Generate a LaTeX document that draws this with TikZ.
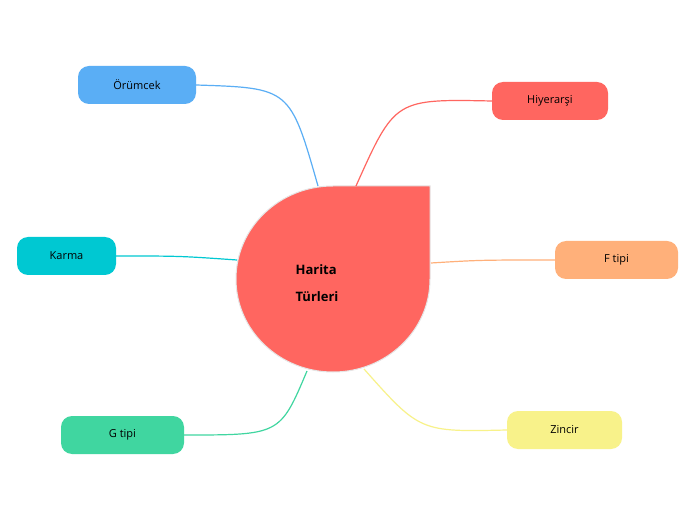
\documentclass[tikz,border=0pt]{standalone}
\usepackage{fontspec}
\setmainfont{Open Sans}
\definecolor{cred}{HTML}{FF6660}
\definecolor{cblue}{HTML}{5AAEF5}
\definecolor{ccyan}{HTML}{00C8D2}
\definecolor{corange}{HTML}{FFB07A}
\definecolor{cgreen}{HTML}{40D6A0}
\definecolor{cyellow}{HTML}{F8F28A}
\begin{document}
\begin{tikzpicture}[x=1pt,y=1pt,
  pill/.style={rounded corners=11pt,minimum height=38pt,inner sep=0pt,font=\fontsize{11}{13}\selectfont,text=black},
  conn/.style={line width=1.2pt}]
\useasboundingbox (0,0) rectangle (696,520);
\fill[white] (0,0) rectangle (696,520);
\draw[fill=cred,draw=black!10,line width=1pt] (333,334) -- (430,334) -- (430,241) arc[start angle=0,end angle=-270,x radius=97,y radius=93] -- cycle;
\node[align=left,font=\bfseries\fontsize{13}{27}\selectfont] (c) at (317,237) {Harita\\Türleri};
\coordinate (c1) at (318,334);
\coordinate (c2) at (356,334);
\coordinate (c3) at (237,260);
\coordinate (c4) at (431,257);
\coordinate (c5) at (307,149);
\coordinate (c6) at (364,151);
\node[pill,fill=cblue,minimum width=118pt] (a) at (137,435) {Örümcek};
\node[pill,fill=cred,minimum width=116pt] (b) at (550,419) {Hiyerarşi};
\node[pill,fill=ccyan,minimum width=99pt] (k) at (66.5,264) {Karma};
\node[pill,fill=corange,minimum width=123pt] (f) at (616.5,260) {F tipi};
\node[pill,fill=cgreen,minimum width=123pt] (g) at (122.5,85) {G tipi};
\node[pill,fill=cyellow,minimum width=115pt] (z) at (564.5,90) {Zincir};
\draw[conn,cblue] (a.east) .. controls (290,432) .. (c1);
\draw[conn,cred] (b.west) .. controls (395,421) .. (c2);
\draw[conn,ccyan] (k.east) .. controls (180,264) .. (c3);
\draw[conn,corange] (f.west) .. controls (480,260) .. (c4);
\draw[conn,cgreen] (g.east) .. controls (280,85) .. (c5);
\draw[conn,cyellow] (z.west) .. controls (420,88) .. (c6);
\end{tikzpicture}
\end{document}
